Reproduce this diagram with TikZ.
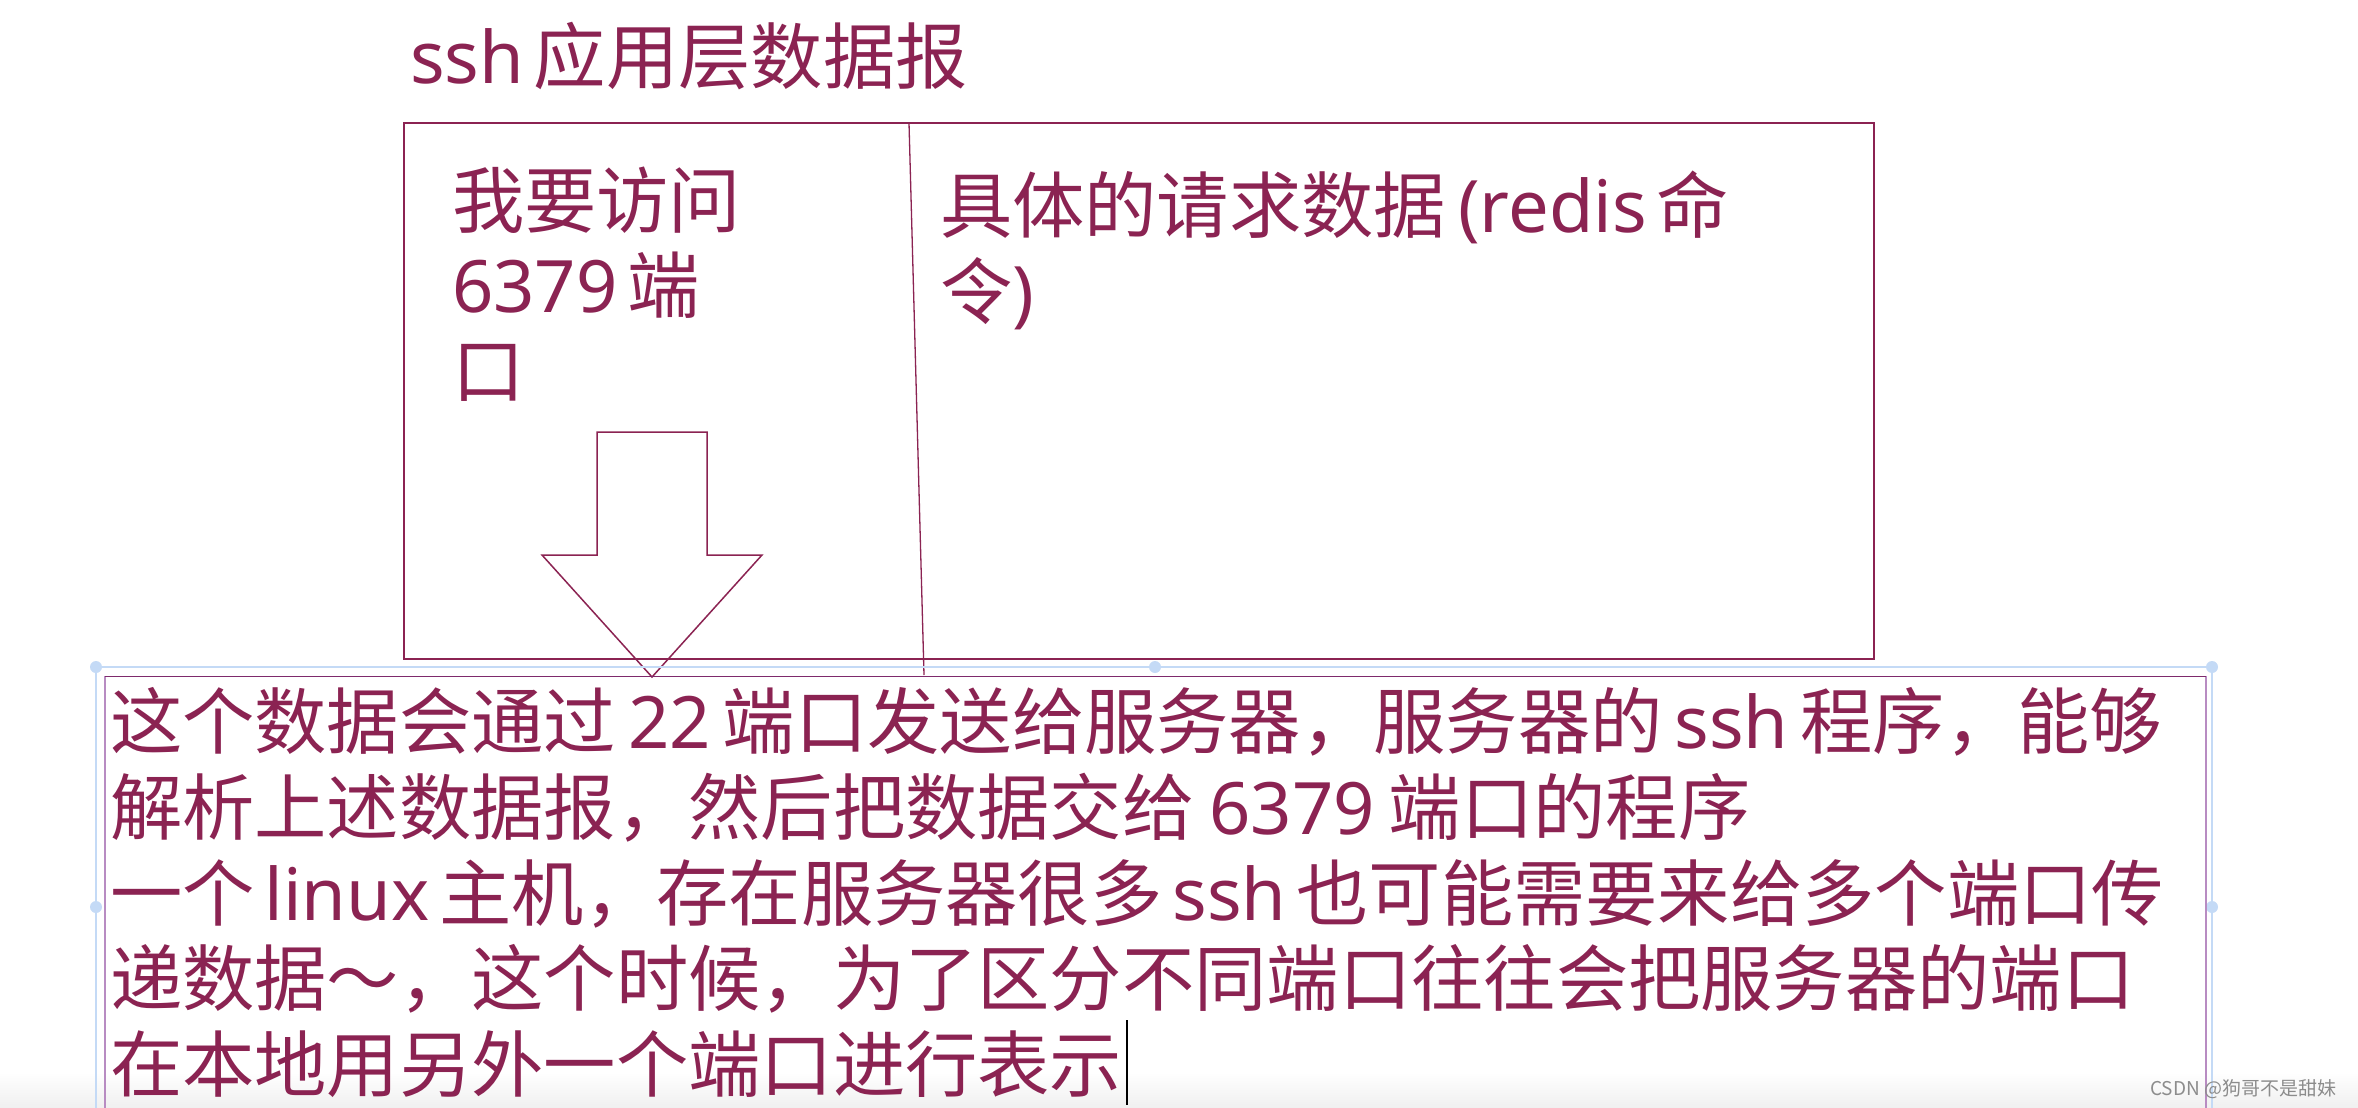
\documentclass[tikz,border=0pt]{standalone}
\usepackage{fontspec}
\setmainfont{Noto Sans CJK SC}
\newfontfamily\latf{Noto Sans}
\newfontfamily\wmfont{Noto Sans CJK SC}
\definecolor{ink}{HTML}{8B2352}
\definecolor{selblue}{HTML}{C4DAF6}
\definecolor{boxpurple}{HTML}{7E2A6C}
\definecolor{sidepurple}{HTML}{B88CC2}
\newcommand{\latw}[1]{\hspace{12pt}{\latf #1}\hspace{12pt}}
\tikzset{
  txt/.style={inner sep=0pt, outer sep=0pt, text=ink, anchor=base west, font=\fontsize{72.3}{86}\selectfont},
  boxline/.style={draw=ink, line width=1.5pt},
  handle/.style={circle, fill=selblue, inner sep=0pt, minimum size=12pt},
}
\begin{document}
\begin{tikzpicture}[x=1pt,y=-1pt]
\useasboundingbox (0,0) rectangle (2358,1108);
% bottom fade
\shade[top color=white, bottom color=black!6, draw=none] (0,1072) rectangle (2358,1108);

% title
\node[txt] (title) at (410,83) {{\latf ssh}\hspace{10pt}应用层数据报};

% top packet box
\draw[boxline] (404,123) rectangle (1874,659);
\coordinate (divtop) at (909,123);
\coordinate (divbot) at (924,675);
\draw[draw=ink, line width=1.3pt] (divtop) -- (divbot);

% left field text
\node[txt] (lf1) at (452,227) {我要访问};
\node[txt] (lf2) at (452,312) {{\latf 6379}\hspace{10pt}端};
\node[txt] (lf3) at (452,397) {口};

% right field text
\node[txt] (rf1) at (940,232) {具体的请求数据\hspace{12pt}{\latf (redis}\hspace{10pt}命};
\node[txt] (rf2) at (940,318) {令{\latf )}};

% block arrow
\draw[boxline, line join=miter] (597,432) -- (707,432) -- (707,555) -- (762,555) -- (652,677) -- (542,555) -- (597,555) -- cycle;

% selection frame (blue)
\draw[selblue, line width=2pt] (96,1108) -- (96,667) -- (2212,667) -- (2212,1108);
\node[handle] (h1) at (96,667) {};
\node[handle] (h2) at (1155,667) {};
\node[handle] (h3) at (2212,667) {};
\node[handle] (h4) at (96,907) {};
\node[handle] (h5) at (2212,907) {};

% lower text box border
\draw[sidepurple, line width=1.5pt] (105,1108) -- (105,676);
\draw[sidepurple, line width=1.5pt] (2206,676) -- (2206,1108);
\draw[boxpurple, line width=1pt] (105,676) -- (2206,676);

% lower text
\node[txt] (t1) at (110,748) {这个数据会通过\latw{22}端口发送给服务器，服务器的\latw{ssh}程序，能够};
\node[txt] (t2) at (110,834) {解析上述数据报，然后把数据交给\hspace{15pt}{\latf 6379}\hspace{14pt}端口的程序};
\node[txt] (t3) at (110,920) {一个\hspace{10pt}{\latf linux}\hspace{10pt}主机，存在服务器很多\hspace{10pt}{\latf ssh}\hspace{10pt}也可能需要来给多个端口传};
\node[txt] (t4) at (110,1005) {递数据～，这个时候，为了区分不同端口往往会把服务器的端口};
\node[txt] (t5) at (110,1091) {在本地用另外一个端口进行表示};

% caret
\draw[black, line width=1.5pt] (1127,1020) -- (1127,1105);

% watermark
\node[inner sep=0pt, anchor=base west, text=black!45, font=\wmfont\fontsize{19}{22}\selectfont] (wm) at (2150,1095) {CSDN @狗哥不是甜妹};
\end{tikzpicture}
\end{document}
